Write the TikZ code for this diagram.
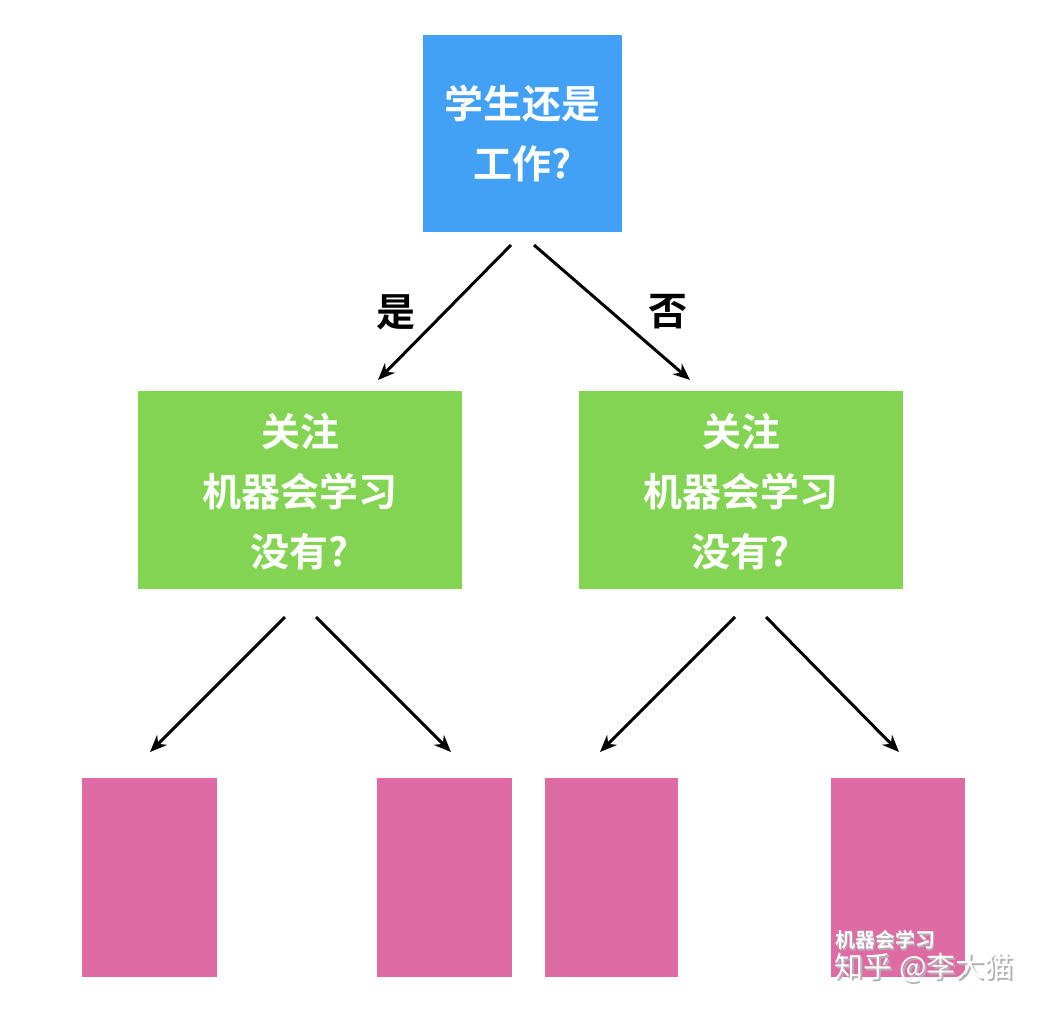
\documentclass[tikz,border=0pt]{standalone}
\usepackage{fontspec}
\setmainfont{Noto Sans CJK SC}[BoldFont={Noto Sans CJK SC Bold}]
\newfontfamily\cjkb{Noto Sans CJK SC Bold}
\definecolor{cblue}{HTML}{42A1F5}
\definecolor{cgreen}{HTML}{84D453}
\definecolor{cpink}{HTML}{DF6BA5}
\usetikzlibrary{arrows.meta}
\begin{document}
\begin{tikzpicture}[x=1pt,y=-1pt,
  box/.style={inner sep=0,outer sep=0,text=white,align=center,font=\cjkb\fontsize{39}{60}\selectfont},
  arr/.style={line width=3pt,-{Stealth[length=17pt,width=14pt]}}]
\useasboundingbox[fill=white] (0,0) rectangle (1048,1012);
\fill[cblue] (423,35) rectangle (622,232);
\node[box] (top) at (522.5,133) {学生还是\\工作?};
\fill[cgreen] (138,391) rectangle (462,589);
\node[box] (gl) at (300,492) {关注\\机器会学习\\没有?};
\fill[cgreen] (579,391) rectangle (903,589);
\node[box] (gr) at (741,492) {关注\\机器会学习\\没有?};
\fill[cpink] (82,778) rectangle (217,977);
\fill[cpink] (377,778) rectangle (512,977);
\fill[cpink] (545,778) rectangle (678,977);
\fill[cpink] (831,778) rectangle (965,977);
\coordinate (a1) at (511,245); \coordinate (b1) at (378,380);
\coordinate (a2) at (534,245); \coordinate (b2) at (690,380);
\draw[arr] (a1) -- (b1);
\draw[arr] (a2) -- (b2);
\node[font=\cjkb\fontsize{39}{40}\selectfont] (y) at (396,312) {是};
\node[font=\cjkb\fontsize{39}{40}\selectfont] (n) at (668,312) {否};
\coordinate (c1) at (285,617); \coordinate (d1) at (150,752);
\coordinate (c2) at (316,617); \coordinate (d2) at (451,752);
\coordinate (c3) at (735,617); \coordinate (d3) at (600,752);
\coordinate (c4) at (766,617); \coordinate (d4) at (899,752);
\draw[arr] (c1) -- (d1);
\draw[arr] (c2) -- (d2);
\draw[arr] (c3) -- (d3);
\draw[arr] (c4) -- (d4);
\node[font=\cjkb\fontsize{20}{20}\selectfont,text=gray!60] at (886,942) {机器会学习};
\node[font=\cjkb\fontsize{20}{20}\selectfont,text=white] (wm1) at (885,940) {机器会学习};
\node[font=\fontsize{29}{30}\selectfont,text=gray!60] at (926,970) {知乎 @李大猫};
\node[font=\fontsize{29}{30}\selectfont,text=white] (wm2) at (924,968) {知乎 @李大猫};
\end{tikzpicture}
\end{document}
